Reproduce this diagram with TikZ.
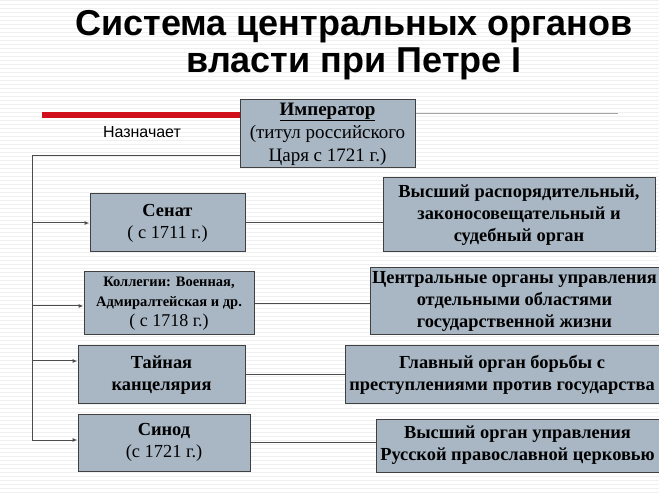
\documentclass[tikz,border=0pt]{standalone}
\usepackage{fontspec}
\setmainfont{Liberation Serif}
\newfontfamily\sansf{Liberation Sans}
\usetikzlibrary{arrows.meta}
\definecolor{boxfill}{HTML}{A9B7C5}
\definecolor{redl}{HTML}{D0101A}
\begin{document}
\begin{tikzpicture}[x=1pt,y=-1pt,
  bx/.style={draw=black!75,line width=1pt,fill=boxfill,align=center,inner sep=0pt,font=\fontsize{18.4}{22}\selectfont\bfseries},
  ln/.style={draw=black!70,line width=1pt},
  arr/.style={ln,-{Latex[length=5pt,width=4pt]}}]
\useasboundingbox (0,0) rectangle (659,494);
\fill[white] (0,0) rectangle (659,494);
\foreach \i in {0,4,...,492} \draw[black!6,line width=0.5pt] (0,\i) -- (659,\i);
\node[font=\sansf\bfseries\fontsize{36}{37}\selectfont,align=center] (title) at (354,45) {Система центральных органов\\власти при Петре I};
\node[bx,minimum width=175pt,minimum height=68pt,font=\fontsize{19}{23}\selectfont] (emp) at (327.5,134) {\textbf{\underline{Император}}\\(титул российского\\Царя с 1721 г.)};
\coordinate (rl) at (42,115);
\draw[redl,line width=6pt] (rl) -- (emp.west |- rl);
\coordinate (gr) at (618,114);
\draw[black!35,line width=1pt] (emp.east |- gr) -- (gr);
\node[font=\sansf\fontsize{16}{18}\selectfont] (naz) at (142,132) {Назначает};
\node[bx,minimum width=155pt,minimum height=58pt] (sen) at (167.5,223) {Сенат\\\mdseries( с 1711 г.)};
\node[bx,minimum width=272pt,minimum height=74pt] (r1) at (519,215) {Высший распорядительный,\\законосовещательный и\\судебный орган};
\node[bx,minimum width=170pt,minimum height=63pt,font=\fontsize{14.5}{20}\selectfont\bfseries] (kol) at (169,303.5) {Коллегии: Военная,\\Адмиралтейская и др.\\\mdseries\fontsize{18}{20}\selectfont( с 1718 г.)};
\node[bx,minimum width=289pt,minimum height=67pt] (r2) at (514.5,301.5) {Центральные органы управления\\отдельными областями\\государственной жизни};
\node[bx,minimum width=167pt,minimum height=58pt] (tai) at (161.5,375) {Тайная\\канцелярия};
\node[bx,minimum width=314pt,minimum height=58pt] (r3) at (502,375) {Главный орган борьбы с\\преступлениями против государства};
\node[bx,minimum width=172pt,minimum height=57pt] (sin) at (164,442.5) {Синод\\\mdseries(с 1721 г.)};
\node[bx,minimum width=283pt,minimum height=53pt] (r4) at (517.5,445.5) {Высший орган управления\\Русской православной церковью};
\coordinate (top) at (32,156);
\coordinate (bot) at (32,440);
\draw[ln] (emp.west |- top) -- (top) -- (bot);
\draw[arr] (32,223) -- (sen.west);
\draw[arr] (32,306) -- (kol.west |- 0,306);
\draw[arr] (32,361) -- (tai.west |- 0,361);
\draw[arr] (bot) -- (sin.west |- bot);
\draw[ln] (sen.east) -- (r1.west |- sen.east);
\draw[ln] (kol.east) -- (r2.west |- kol.east);
\draw[ln] (tai.east) -- (r3.west);
\draw[ln] (sin.east) -- (r4.west |- sin.east);
\end{tikzpicture}
\end{document}
